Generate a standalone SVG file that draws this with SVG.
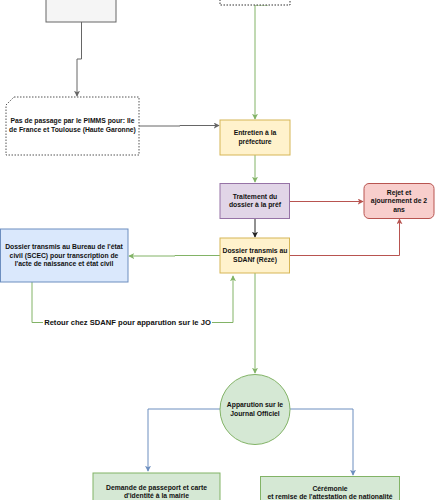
<svg xmlns="http://www.w3.org/2000/svg" width="446" height="500" viewBox="0 0 446 500">
<style>
text{font-family:"Liberation Sans",Arial,sans-serif;font-size:6.8px;font-weight:bold;fill:#111;text-anchor:middle}
text.lbl{font-size:7.6px}
.e{fill:none;stroke-width:1}
.g{stroke:#82b366}.gr{stroke:#666}.r{stroke:#b85450}.b{stroke:#6c8ebf}.k{stroke:#222}
</style>
<defs>
<marker id="ag" viewBox="0 0 8 8" refX="7" refY="4" markerWidth="6" markerHeight="6" orient="auto" markerUnits="userSpaceOnUse"><path d="M0,0L8,4L0,8L2,4z" fill="#82b366"/></marker>
<marker id="agr" viewBox="0 0 8 8" refX="7" refY="4" markerWidth="6" markerHeight="6" orient="auto" markerUnits="userSpaceOnUse"><path d="M0,0L8,4L0,8L2,4z" fill="#666"/></marker>
<marker id="ar" viewBox="0 0 8 8" refX="7" refY="4" markerWidth="6" markerHeight="6" orient="auto" markerUnits="userSpaceOnUse"><path d="M0,0L8,4L0,8L2,4z" fill="#b85450"/></marker>
<marker id="ab" viewBox="0 0 8 8" refX="7" refY="4" markerWidth="6" markerHeight="6" orient="auto" markerUnits="userSpaceOnUse"><path d="M0,0L8,4L0,8L2,4z" fill="#6c8ebf"/></marker>
<marker id="ak" viewBox="0 0 8 8" refX="7" refY="4" markerWidth="6" markerHeight="6" orient="auto" markerUnits="userSpaceOnUse"><path d="M0,0L8,4L0,8L2,4z" fill="#222"/></marker>
</defs>
<rect width="446" height="500" fill="#fff"/>
<g id="connectors">
<path class="e gr" d="M81.5,22V59H77V96" marker-end="url(#agr)"/>
<path class="e gr" d="M139,126H180V125.5H219" marker-end="url(#agr)"/>
<path class="e g" d="M268,5H255V119" marker-end="url(#ag)"/>
<path class="e g" d="M255,155V182" marker-end="url(#ag)"/>
<path class="e r" d="M289,201.5H363" marker-end="url(#ar)"/>
<path class="e k" d="M255,218V237" marker-end="url(#ak)"/>
<path class="e r" d="M289,255.5H399.5V219" marker-end="url(#ar)"/>
<path class="e g" d="M220,255.5H175V256H129" marker-end="url(#ag)"/>
<path class="e g" d="M32,282V322.5H43M212,322.5H233V276" marker-end="url(#ag)"/>
<path class="e g" d="M255,273V373" marker-end="url(#ag)"/>
<path class="e b" d="M220,409H148V471" marker-end="url(#ab)"/>
<path class="e b" d="M290,409H353V475" marker-end="url(#ab)"/>
<text class="lbl" x="127.5" y="325.3">Retour chez SDANF pour apparution sur le JO</text>
</g>
<g id="n-gray"><rect x="46" y="-10" width="70" height="32" fill="#f5f5f5" stroke="#666"/></g>
<g id="n-top"><rect x="220" y="-10" width="70" height="15" fill="#fff" stroke="#333" stroke-dasharray="1.5,1.5"/></g>
<g id="n-pimms"><path d="M14,97H139V155H6V105z" fill="#fff" stroke="#555" stroke-dasharray="1.5,1.5"/>
<text x="72.5" y="123">Pas de passage par le PIMMS pour: Ile</text><text x="72.5" y="131.7">de France et Toulouse (Haute Garonne)</text></g>
<g id="n-entretien"><rect x="220" y="120" width="70" height="35" fill="#fff2cc" stroke="#d6b656"/>
<text x="255" y="134.8">Entretien à la</text><text x="255" y="143.5">préfecture</text></g>
<g id="n-traitement"><rect x="220" y="183.5" width="69.5" height="35" fill="#e1d5e7" stroke="#9673a6"/>
<text x="255" y="198.5">Traitement du</text><text x="255" y="207">dossier à la préf</text></g>
<g id="n-rejet"><rect x="364" y="183.5" width="70" height="35" rx="5" fill="#f8cecc" stroke="#b85450"/>
<text x="399" y="194.5">Rejet et</text><text x="399" y="203.2">ajournement de 2</text><text x="399" y="211.8">ans</text></g>
<g id="n-sdanf"><rect x="220" y="238" width="69.5" height="35" fill="#fff2cc" stroke="#d6b656"/>
<text x="255" y="253.2">Dossier transmis au</text><text x="255" y="261.8">SDANf (Rézé)</text></g>
<g id="n-scec"><rect x="0.5" y="229" width="127.5" height="53" fill="#dae8fc" stroke="#6c8ebf"/>
<text x="64" y="248.8">Dossier transmis au Bureau de l'état</text><text x="64" y="257.5">civil (SCEC) pour transcription de</text><text x="64" y="266.2">l'acte de naissance et état civil</text></g>
<g id="n-jo"><circle cx="255" cy="409.5" r="35" fill="#d5e8d4" stroke="#82b366"/>
<text x="255" y="406.8">Apparution sur le</text><text x="255" y="415.5">Journal Officiel</text></g>
<g id="n-passeport"><rect x="93" y="473" width="127" height="40" fill="#d5e8d4" stroke="#82b366"/>
<text x="156.5" y="489.5">Demande de passeport et carte</text><text x="156.5" y="498.2">d'identité à la mairie</text></g>
<g id="n-ceremonie"><rect x="260.5" y="476.5" width="139" height="40" fill="#d5e8d4" stroke="#82b366"/>
<text x="330" y="490.5">Cérémonie</text><text x="330" y="499.2">et remise de l'attestation de nationalité</text></g>
</svg>
